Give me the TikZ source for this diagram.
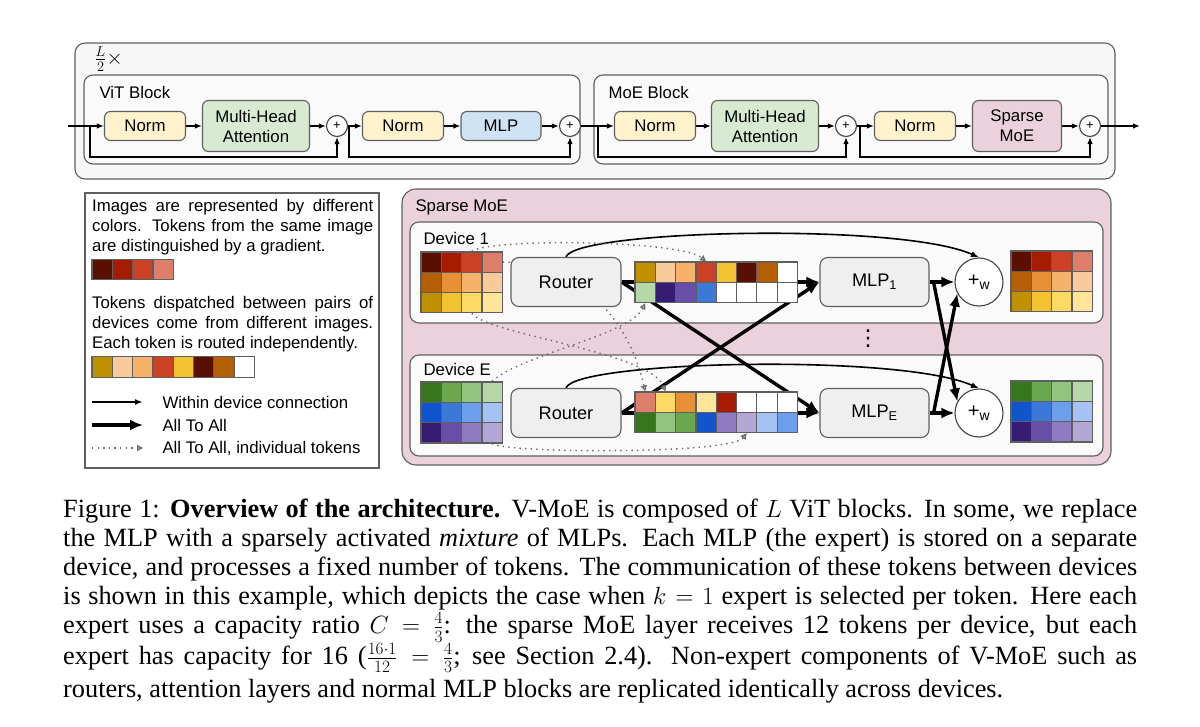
\documentclass[tikz,border=0pt]{standalone}
\usepackage{fontspec}
\setmainfont{Liberation Serif}
\setsansfont{Liberation Sans}
\newfontfamily\symfont{DejaVu Sans}
\usepackage{amsmath}
\usetikzlibrary{arrows.meta, positioning, calc}

\pgfdeclarelayer{back}
\pgfdeclarelayer{wires}
\pgfsetlayers{back,wires,main}

% box colours
\definecolor{linegray}{HTML}{5F5F5F}
\definecolor{normfill}{HTML}{FFF2CC}
\definecolor{attnfill}{HTML}{D9EAD3}
\definecolor{mlpfill}{HTML}{CFE2F3}
\definecolor{moefill}{HTML}{EAD1DC}
\definecolor{unitfill}{HTML}{EFEFEF}
\definecolor{panelfill}{HTML}{FAFAFA}
\definecolor{stackfill}{HTML}{F7F7F7}
\definecolor{dotgray}{HTML}{6A6A6A}
% token colours
\definecolor{rA}{HTML}{5B0F00}\definecolor{rB}{HTML}{A61C00}\definecolor{rC}{HTML}{CC4125}\definecolor{rD}{HTML}{DD7E6B}
\definecolor{oA}{HTML}{B45F06}\definecolor{oB}{HTML}{E69138}\definecolor{oC}{HTML}{F6B26B}\definecolor{oD}{HTML}{F9CB9C}
\definecolor{yA}{HTML}{BF9000}\definecolor{yB}{HTML}{F1C232}\definecolor{yC}{HTML}{FFD966}\definecolor{yD}{HTML}{FFE599}
\definecolor{gA}{HTML}{38761D}\definecolor{gB}{HTML}{6AA84F}\definecolor{gC}{HTML}{93C47D}\definecolor{gD}{HTML}{B6D7A8}
\definecolor{bA}{HTML}{1155CC}\definecolor{bB}{HTML}{3C78D8}\definecolor{bC}{HTML}{6D9EEB}\definecolor{bD}{HTML}{A4C2F4}
\definecolor{pA}{HTML}{351C75}\definecolor{pB}{HTML}{674EA7}\definecolor{pC}{HTML}{8E7CC3}\definecolor{pD}{HTML}{B4A7D6}

\tikzset{
  unit/.style={draw=linegray, line width=1.1pt, rounded corners=6pt, align=center, inner sep=0pt},
  normbox/.style={unit, fill=normfill, minimum width=81pt, minimum height=29pt},
  attnbox/.style={unit, fill=attnfill, minimum width=107pt, minimum height=51pt},
  addnode/.style={circle, draw=linegray!70!black, fill=white, line width=1.1pt, minimum size=21pt, inner sep=0pt, font=\sffamily\fontsize{13}{13}\selectfont},
  panel/.style={draw=linegray, line width=1.1pt, fill=panelfill, rounded corners=9pt},
  unitbox/.style={unit, fill=unitfill, rounded corners=8pt, minimum width=110pt, minimum height=49pt, font=\sffamily\fontsize{18.2}{20}\selectfont},
  combine/.style={circle, draw=linegray!70!black, fill=white, line width=1.1pt, minimum size=48pt, inner sep=0pt, font=\sffamily\fontsize{20}{20}\selectfont},
  cell/.style={draw=linegray, line width=1.2pt, minimum size=20.3pt, inner sep=0pt},
  para/.style={text width=281pt, align=justify, inner sep=0pt},
  wire/.style={line width=1.3pt, ->},
  devwire/.style={line width=1.6pt, -{Latex[length=8pt,width=6pt]}},
  alltoall/.style={line width=3.4pt, -{Latex[length=13pt,width=11pt]}},
  tokenwire/.style={dotgray, line width=1.4pt, dash pattern=on 1.4pt off 4.2pt, -{Triangle[open, length=6pt, width=6pt]}},
  caption/.style={font=\rmfamily\fontsize{26.3}{29}\selectfont, text width=1074pt, align=justify, inner sep=0pt}
}

\begin{document}
\begin{tikzpicture}[x=1pt, y=-1pt, >={Latex[length=7pt,width=5.5pt]}, font=\sffamily\fontsize{16.8}{20}\selectfont]
\useasboundingbox (0,0) rectangle (1200,727);

% frames
\begin{pgfonlayer}{back}
\node[panel, fill=stackfill, rounded corners=10pt, minimum width=1040pt, minimum height=136pt] (stack) at (595,111) {};
\node[panel, minimum width=496pt, minimum height=89pt] (vit) at (332,119.5) {};
\node[panel, minimum width=514pt, minimum height=89pt] (moe) at (851,119.5) {};
\node[draw=linegray, line width=1.2pt, fill=white, minimum width=294pt, minimum height=275pt] (legend) at (232,330.5) {};
\node[panel, fill=moefill, rounded corners=14pt, minimum width=709pt, minimum height=276pt] (sparse) at (756.5,327) {};
\node[panel, minimum width=693pt, minimum height=101pt] (dev1) at (756.5,272.5) {};
\node[panel, minimum width=693pt, minimum height=101pt] (devE) at (756.5,405.5) {};
\end{pgfonlayer}

% top row
\node[anchor=west, font=\fontsize{21}{21}\selectfont] (reps) at (91,59) {$\frac{L}{2}\times$};
\node[anchor=west] (vitlbl) at (96,92) {ViT Block};
\node[anchor=west] (moelbl) at (605,92) {MoE Block};

\coordinate (in) at (68,126);
\coordinate (fork1) at (90,126);
\node[normbox] (norm1) at (145,126) {Norm};
\node[attnbox] (mha1) at (256,126) {Multi-Head\\Attention};
\node[addnode] (add1) at (337,126) {+};
\coordinate (fork2) at (349,126);
\node[normbox] (norm2) at (403,126) {Norm};
\node[unit, fill=mlpfill, minimum width=80pt, minimum height=29pt] (mlp) at (501,126) {MLP};
\node[addnode] (add2) at (570,126) {+};
\coordinate (fork3) at (598,126);
\node[normbox] (norm3) at (655,126) {Norm};
\node[attnbox] (mha2) at (765,126) {Multi-Head\\Attention};
\node[addnode] (add3) at (846,126) {+};
\coordinate (fork4) at (860,126);
\node[normbox] (norm4) at (915,126) {Norm};
\node[unit, fill=moefill, minimum width=89pt, minimum height=51pt] (smoe) at (1017,126) {Sparse\\MoE};
\node[addnode] (add4) at (1090,126) {+};
\coordinate (out) at (1140,126);

% legend
\node[para, anchor=north west] (note1) at (92,199) {Images are represented by different\linebreak colors. Tokens from the same image\linebreak are distinguished by a gradient.};
\foreach \c [count=\i] in {rA,rB,rC,rD}
  \node[cell, fill=\c] (key-a\i) at ({92+20.3*(\i-0.5)}, 269.5) {};
\node[para, anchor=north west] (note2) at (92,296) {Tokens dispatched between pairs of\linebreak devices come from different images.\linebreak Each token is routed independently.};
\foreach \c [count=\i] in {yA,oD,oC,rC,yB,rA,oA,white}
  \node[cell, fill=\c] (key-b\i) at ({92+20.3*(\i-0.5)}, 367) {};
\coordinate (key1a) at (92,402); \coordinate (key1b) at (143,402);
\coordinate (key2a) at (92,425); \coordinate (key2b) at (143,425);
\coordinate (key3a) at (92,448); \coordinate (key3b) at (143,448);
\node[anchor=west] (key1) at (159,402) {Within device connection};
\node[anchor=west] (key2) at (159,425) {All To All};
\node[anchor=west] (key3) at (159,448) {All To All, individual tokens};

% sparse moe
\node[anchor=west] (sparselbl) at (412,207) {Sparse MoE};
\node[anchor=west] (dev1lbl) at (420,238) {Device 1};
\node[anchor=west] (devElbl) at (420,369) {Device E};

\node[unitbox] (router1) at (566,282) {Router};
\node[unitbox, minimum width=109pt] (mlp1) at (874.5,282) {MLP\textsubscript{1}};
\node[combine] (comb1) at (979,282) {+\textsubscript{w}};
\node[unitbox] (routerE) at (566,413) {Router};
\node[unitbox, minimum width=109pt] (mlpE) at (874.5,413) {MLP\textsubscript{E}};
\node[combine] (combE) at (979,413) {+\textsubscript{w}};
\node[font=\symfont\fontsize{22}{22}\selectfont] (more) at (868,339) {⋮};

% token grids
\foreach \row [count=\r] in {{rA,rB,rC,rD},{oA,oB,oC,oD},{yA,yB,yC,yD}}
  \foreach \c [count=\i] in \row {
    \node[cell, fill=\c] (in1-\r-\i) at ({421+20.3*(\i-0.5)}, {252+20.3*(\r-0.5)}) {};
    \node[cell, fill=\c] (out1-\r-\i) at ({1011+20.3*(\i-0.5)}, {251+20.3*(\r-0.5)}) {};
  }
\foreach \row [count=\r] in {{gA,gB,gC,gD},{bA,bB,bC,bD},{pA,pB,pC,pD}}
  \foreach \c [count=\i] in \row {
    \node[cell, fill=\c] (inE-\r-\i) at ({421+20.3*(\i-0.5)}, {382+20.3*(\r-0.5)}) {};
    \node[cell, fill=\c] (outE-\r-\i) at ({1011+20.3*(\i-0.5)}, {381+20.3*(\r-0.5)}) {};
  }
\foreach \row [count=\r] in {{yA,oD,oC,rC,yB,rA,oA,white},{gD,pA,pB,bB,white,white,white,white}}
  \foreach \c [count=\i] in \row
    \node[cell, fill=\c] (tk1-\r-\i) at ({635+20.3*(\i-0.5)}, {262+20.3*(\r-0.5)}) {};
\foreach \row [count=\r] in {{rD,yC,oB,yD,rB,white,white,white},{gA,gC,gB,bA,pC,pD,bD,bC}}
  \foreach \c [count=\i] in \row
    \node[cell, fill=\c] (tkE-\r-\i) at ({635+20.3*(\i-0.5)}, {392+20.3*(\r-0.5)}) {};

% caption
\node[caption, anchor=north west] (cap) at (63,499) {Figure 1: \textbf{Overview of the architecture.} V-MoE is composed of $L$ ViT blocks. In some, we replace\linebreak
the MLP with a sparsely activated \textit{mixture} of MLPs. Each MLP (the expert) is stored on a separate\linebreak
device, and processes a fixed number of tokens. The communication of these tokens between devices\linebreak
is shown in this example, which depicts the case when $k = 1$ expert is selected per token. Here each\linebreak
expert uses a capacity ratio $C = \frac{4}{3}$: the sparse MoE layer receives 12 tokens per device, but each\linebreak
expert has capacity for 16 ($\frac{16\cdot 1}{12} = \frac{4}{3}$; see Section 2.4). Non-expert components of V-MoE such as\vspace{4pt}\linebreak
routers, attention layers and normal MLP blocks are replicated identically across devices.};

\begin{pgfonlayer}{wires}
% main path
\draw[wire] (in) -- (norm1);
\draw[wire] (norm1) -- (mha1);
\draw[wire] (mha1) -- (add1);
\draw[wire] (add1) -- (norm2);
\draw[wire] (norm2) -- (mlp);
\draw[wire] (mlp) -- (add2);
\draw[wire] (add2) -- (norm3);
\draw[wire] (norm3) -- (mha2);
\draw[wire] (mha2) -- (add3);
\draw[wire] (add3) -- (norm4);
\draw[wire] (norm4) -- (smoe);
\draw[wire] (smoe) -- (add4);
\draw[wire] (add4) -- (out);
% residuals
\draw[wire] (fork1) -- ++(0,31) -| (add1);
\draw[wire] (fork2) -- ++(0,31) -| (add2);
\draw[wire] (fork3) -- ++(0,31) -| (add3);
\draw[wire] (fork4) -- ++(0,31) -| (add4);

% legend keys
\draw[devwire] (key1a) -- (key1b);
\draw[alltoall] (key2a) -- (key2b);
\draw[tokenwire] (key3a) -- (key3b);

% within device
\draw[devwire] (router1.north) .. controls (575,230) and (900,222) .. (comb1.north);
\draw[devwire] (routerE.north) .. controls (575,361) and (900,353) .. (combE.north);

% all to all
\draw[alltoall] (router1.east) -- (mlp1.west);
\draw[alltoall] (router1.east) -- (mlpE.west);
\draw[alltoall] (routerE.east) -- (mlp1.west);
\draw[alltoall] (routerE.east) -- (mlpE.west);
\draw[alltoall] (mlp1.east) -- (comb1.west);
\draw[alltoall] ([xshift=4pt]mlp1.east) -- (combE.152);
\draw[alltoall] (mlpE.east) -- (combE.west);
\draw[alltoall] ([xshift=4pt]mlpE.east) -- (comb1.208);

% individual tokens
\draw[tokenwire] (in1-1-3.north) .. controls (490,238) and (680,240) .. (tk1-1-4.north);
\draw[tokenwire] (in1-1-4.east) .. controls (580,262) and (630,322) .. (tkE-1-1.north);
\draw[tokenwire] (in1-3-3.south) .. controls (490,335) and (650,352) .. (tkE-1-2.north);
\draw[tokenwire] (inE-1-4.north) .. controls (520,355) and (630,335) .. (tk1-2-1.south);
\draw[tokenwire] (inE-3-4.south) .. controls (500,453) and (730,455) .. (tkE-2-6.south);
\end{pgfonlayer}

\end{tikzpicture}
\end{document}
